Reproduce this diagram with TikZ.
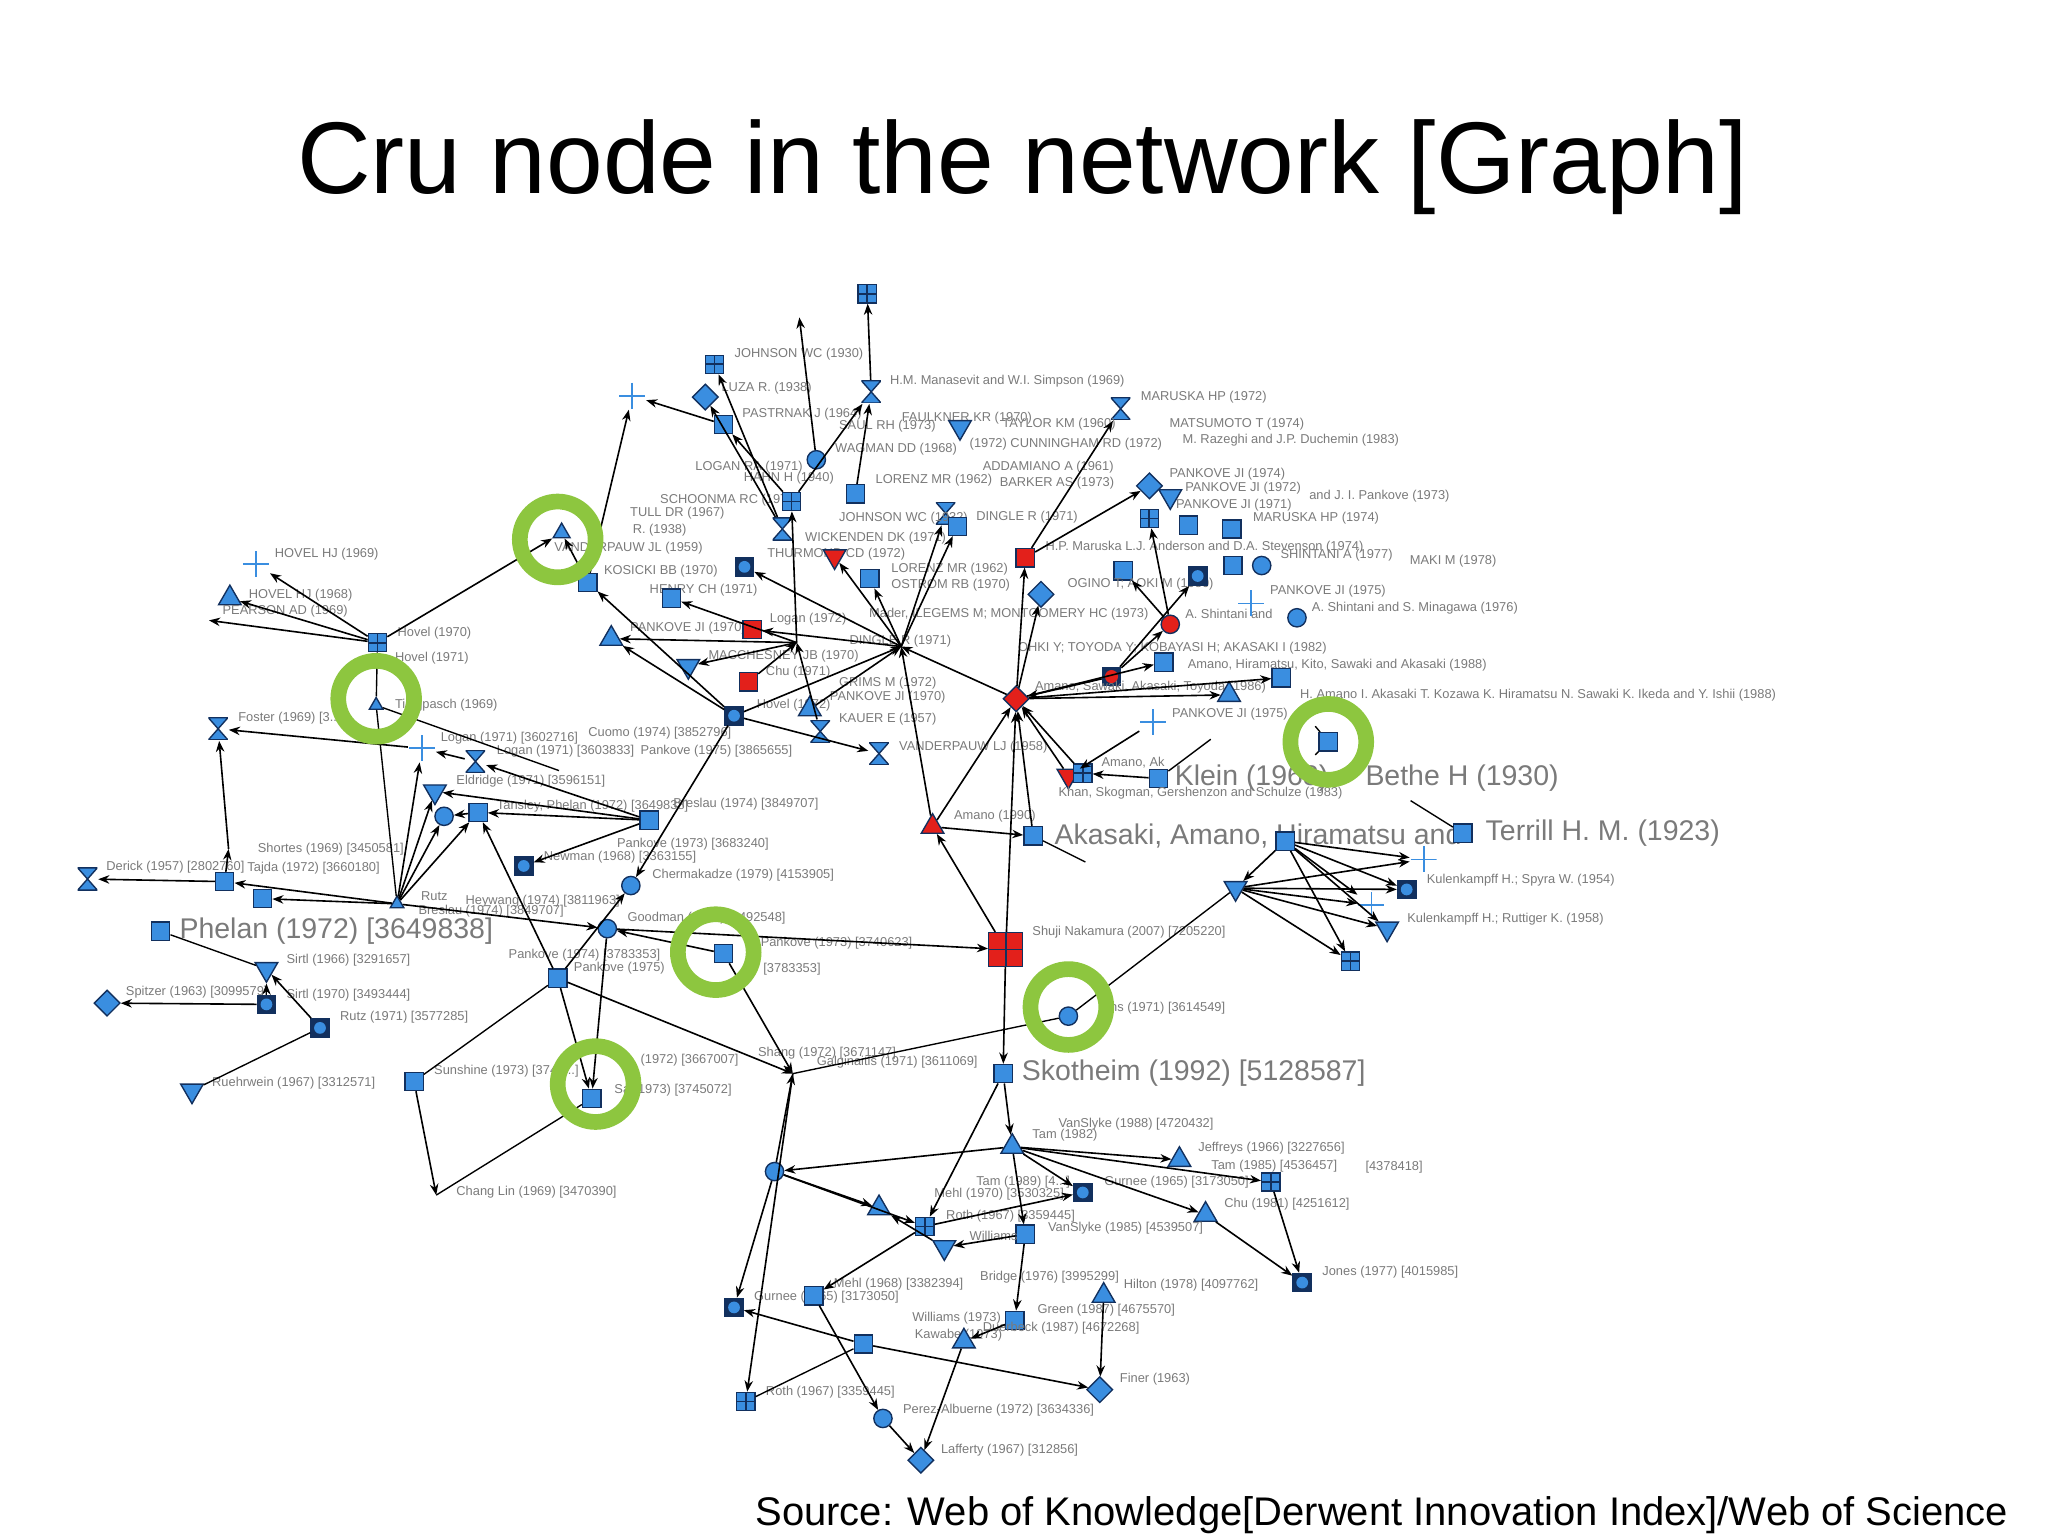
\documentclass[tikz,border=0pt]{standalone}
\usepackage{fontspec}
\setmainfont{Liberation Sans}
\usetikzlibrary{shapes.geometric,arrows.meta}
\definecolor{nb}{HTML}{3A8EE0}
\definecolor{nd}{HTML}{12305E}
\definecolor{nr}{HTML}{E3201B}
\definecolor{lg}{HTML}{7A7A7A}
\definecolor{rg}{HTML}{8DC63F}
\newcommand\tx[4]{\node[lb] (#1) at (#2,#3) {#4};}
\newcommand\bx[4]{\node[bl] (#1) at (#2,#3) {#4};}
\begin{document}
\begin{tikzpicture}[x=0.01cm,y=-0.01cm,
  base/.style={inner sep=0pt,draw=nd,line width=0.3pt,fill=nb},
  sq/.style={base,rectangle,minimum size=0.14cm},
  rsq/.style={sq,fill=nr},
  grid/.style={sq,path picture={\draw[nd,line width=0.4pt] (path picture bounding box.north)--(path picture bounding box.south) (path picture bounding box.west)--(path picture bounding box.east);}},
  rgrid/.style={grid,fill=nr,minimum size=0.26cm},
  dsq/.style={sq,fill=nd,path picture={\fill[nb] (path picture bounding box.center) circle (0.045cm);}},
  rdsq/.style={dsq,path picture={\fill[nr] (path picture bounding box.center) circle (0.05cm);}},
  tri/.style={base,regular polygon,regular polygon sides=3,minimum size=0.2cm},
  rtri/.style={tri,fill=nr},
  itri/.style={tri,shape border rotate=180},
  ritri/.style={itri,fill=nr},
  dia/.style={base,diamond,minimum size=0.2cm},
  rdia/.style={dia,fill=nr},
  circ/.style={base,circle,minimum size=0.14cm},
  rcirc/.style={circ,fill=nr},
  hg/.style={rectangle,inner sep=0pt,minimum width=0.15cm,minimum height=0.17cm,path picture={\filldraw[fill=nb,draw=nd,line width=0.3pt] (path picture bounding box.north west)--(path picture bounding box.north east)--(path picture bounding box.south west)--(path picture bounding box.south east)--cycle;}},
  crs/.style={rectangle,inner sep=0pt,minimum size=0.2cm,path picture={\draw[nb,line width=0.4pt] (path picture bounding box.north)--(path picture bounding box.south) (path picture bounding box.west)--(path picture bounding box.east);}},
  lb/.style={anchor=west,inner sep=0.5pt,text=lg,font=\fontsize{2.8}{3}\selectfont},
  bl/.style={anchor=west,inner sep=0.5pt,text=lg,font=\fontsize{6.2}{7}\selectfont},
  ring/.style={draw=rg,line width=0.12cm,circle,minimum size=0.58cm,inner sep=0pt},
  e/.style={-{Stealth[length=0.85mm,width=0.65mm]},line width=0.35pt,black},
  l/.style={line width=0.3pt,black}]
\useasboundingbox (0,0) rectangle (1568,1176);
\node[font=\fontsize{22.2}{25}\selectfont] (title) at (783,128) {Cru node in the network [Graph]};
\node[anchor=east,font=\fontsize{8.7}{10}\selectfont] (src) at (1550,1160) {Source: Web of Knowledge[Derwent Innovation Index]/Web of Science};

% ---------- top cluster
\node[grid] (g1) at (664,225) {};
\coordinate (c1) at (612,243);
\node[grid] (jw) at (547,279) {}; \tx{tjw}{560}{271}{JOHNSON WC (1930)}
\node[dia] (lz) at (540,304) {}; \tx{tlz}{550}{297}{LUZA R. (1938)}
\node[sq] (pa) at (554,325) {}; \tx{tpa}{566}{317}{PASTRNAK J (1964)}
\node[hg] (hm) at (667,300) {}; \tx{thm}{679}{292}{H.M. Manasevit and W.I. Simpson (1969)}
\node[crs] (x1) at (484,303) {};
\node[hg] (mh) at (858,313) {}; \tx{tmh}{871}{304}{MARUSKA HP (1972)}
\tx{tmt}{893}{325}{MATSUMOTO T (1974)} \tx{trz}{903}{337}{M. Razeghi and J.P. Duchemin (1983)}
\tx{tsr}{640}{326}{SAUL RH (1973)} \tx{tfk}{688}{320}{FAULKNER KR (1970)} \tx{ttk}{765}{325}{TAYLOR KM (1960)}
\node[itri] (it1) at (735,327) {};
\node[circ] (wg) at (625,352) {}; \tx{twg}{637}{344}{WAGMAN DD (1968)} \tx{tcu}{740}{340}{(1972) CUNNINGHAM RD (1972)}
\tx{tlr}{530}{358}{LOGAN RA (1971)} \tx{thh}{567}{366}{HAHN H (1940)} \tx{tlm}{668}{368}{LORENZ MR (1962)}
\node[sq] (s1) at (655,378) {}; \tx{tad}{750}{358}{ADDAMIANO A (1961)} \tx{tba}{763}{370}{BARKER AS (1973)}
\tx{tsc}{503}{383}{SCHOONMA RC (1971)} \node[grid] (g2) at (606,384) {};
\node[hg] (h2) at (724,393) {}; \tx{tj2}{640}{397}{JOHNSON WC (1932)} \tx{tdr}{745}{396}{DINGLE R (1971)}
\node[sq] (s2) at (733,403) {};
\tx{ttu}{480}{393}{TULL DR (1967)} \tx{tr3}{482}{406}{R. (1938)}
\node[hg] (h3) at (599,405) {}; \tx{twk}{614}{412}{WICKENDEN DK (1971)}
\tx{tva}{422}{420}{VANDERPAUW JL (1959)}
\node[dsq] (d1) at (570,434) {}; \tx{tth}{585}{424}{THURMOND CD (1972)}
\node[ritri] (rt1) at (639,426) {};
\tx{tko}{460}{437}{KOSICKI BB (1970)} \node[sq] (s3) at (450,446) {};
\tx{thc}{495}{452}{HENRY CH (1971)} \node[sq] (s4) at (514,458) {};
\node[sq] (s5) at (666,443) {}; \tx{tl2}{680}{436}{LORENZ MR (1962)} \tx{tos}{680}{448}{OSTROM RB (1970)}
\node[rsq] (r1) at (785,427) {}; \tx{thp}{798}{419}{H.P. Maruska L.J. Anderson and D.A. Stevenson (1974)}
\node[sq] (s6) at (860,437) {}; \tx{tog}{815}{447}{OGINO T; AOKI M (1980)}
\node[dia] (dm1) at (797,455) {};
\node[dsq] (d2) at (917,441) {};
\node[sq] (s7) at (944,433) {}; \node[circ] (c7) at (966,433) {};
\tx{tsh}{978}{425}{SHINTANI A (1977)} \tx{tmk}{1077}{430}{MAKI M (1978)}
\node[grid] (g3) at (880,397) {}; \node[sq] (s8) at (910,402) {}; \node[sq] (s9) at (943,405) {};
\node[dia] (dm2) at (880,372) {}; \node[itri] (it2) at (896,380) {};
\tx{tp1}{893}{363}{PANKOVE JI (1974)} \tx{tp2}{905}{374}{PANKOVE JI (1972)} \tx{tp3}{898}{387}{PANKOVE JI (1971)}
\tx{tpk}{1000}{380}{and J. I. Pankove (1973)} \tx{tm4}{957}{397}{MARUSKA HP (1974)}
\tx{tp5}{970}{453}{PANKOVE JI (1975)}
\node[circ] (c8) at (993,473) {}; \tx{tas}{1002}{466}{A. Shintani and S. Minagawa (1976)}
\node[rcirc] (rc1) at (896,478) {}; \tx{tas2}{905}{470}{A. Shintani and}
\node[crs] (x2) at (958,462) {};
\tx{tmd}{663}{470}{Mader, ILEGEMS M; MONTGOMERY HC (1973)}
\node[tri] (t1) at (468,489) {}; \tx{tpj}{480}{481}{PANKOVE JI (1970)}
\node[rsq] (r2) at (576,482) {}; \tx{tlo}{587}{474}{Logan (1972)}
\tx{tdg}{648}{491}{DINGLE R (1971)}
\coordinate (hub) at (690,495);
\coordinate (hub2) at (610,492);
\tx{toh}{777}{496}{OHKI Y; TOYODA Y; KOBAYASI H; AKASAKI I (1982)}
\node[sq] (s10) at (891,507) {}; \tx{tam}{907}{509}{Amano, Hiramatsu, Kito, Sawaki and Akasaki (1988)}
\node[sq] (s11) at (981,519) {}; \tx{tha}{993}{532}{H. Amano I. Akasaki T. Kozawa K. Hiramatsu N. Sawaki K. Ikeda and Y. Ishii (1988)}
\node[itri] (it3) at (527,510) {}; \tx{tmc}{540}{502}{MACCHESNEY JB (1970)}
\node[rsq] (r3) at (573,522) {}; \tx{tch}{584}{515}{Chu (1971)}
\node[rdsq] (r4) at (851,518) {};
\node[rdia] (rd) at (778,535) {}; \tx{tas3}{790}{526}{Amano, Sawaki, Akasaki, Toyoda (1986)}
\node[tri] (t2) at (941,532) {}; \tx{tp6}{895}{547}{PANKOVE JI (1975)}
\node[dsq] (d3) at (562,548) {}; \tx{thv}{577}{540}{Hovel (1972)}
\node[tri] (t3) at (620,543) {}; \tx{tp7}{633}{534}{PANKOVE JI (1970)}
\tx{tgr}{640}{523}{GRIMS M (1972)}
\node[hg] (h4) at (628,560) {}; \tx{tka}{640}{551}{KAUER E (1957)}
\node[hg] (h5) at (673,577) {}; \tx{tvl}{686}{572}{VANDERPAUW LJ (1958)}
\node[crs] (x3) at (883,553) {};
\node[sq] (s12) at (1017,568) {};
\node[ritri] (rt2) at (818,594) {}; \node[grid] (g4) at (829,592) {}; \tx{taa}{841}{584}{Amano, Ak}
\node[sq] (s13) at (887,596) {}; \bx{tkl}{897}{596}{Klein (1968)} \bx{tbe}{1043}{596}{Bethe H (1930)}
\tx{tks}{808}{607}{Khan, Skogman, Gershenzon and Schulze (1983)}
\node[rtri] (rt3) at (714,633) {}; \tx{ta9}{728}{625}{Amano (1990)}
\node[sq] (s14) at (791,640) {}; \bx{tak}{805}{640}{Akasaki, Amano, Hiramatsu and}
\node[sq] (s15) at (984,644) {};
\node[sq] (s16) at (1120,638) {}; \bx{tte}{1135}{638}{Terrill H. M. (1923)}
\node[crs] (x4) at (1090,658) {};
\node[itri] (it4) at (946,680) {};
\node[dsq] (d4) at (1077,681) {}; \tx{tku}{1090}{674}{Kulenkampff H.; Spyra W. (1954)}
\node[crs] (x5) at (1050,693) {};
\node[itri] (it5) at (1062,711) {}; \tx{tku2}{1075}{704}{Kulenkampff H.; Ruttiger K. (1958)}
\node[grid] (g5) at (1034,736) {};
\node[rgrid] (nak) at (770,727) {}; \tx{tna}{788}{714}{Shuji Nakamura (2007) [7205220]}
\node[circ] (c9) at (818,778) {}; \tx{tc9}{842}{772}{ens (1971) [3614549]}
\node[sq] (sko) at (768,822) {}; \bx{tsk}{780}{822}{Skotheim (1992) [5128587]}

% ---------- left cluster
\node[crs] (x6) at (196,432) {}; \tx{th1}{208}{424}{HOVEL HJ (1969)}
\node[tri] (t4) at (176,458) {}; \tx{th2}{188}{456}{HOVEL HJ (1968)} \tx{tpe}{168}{468}{PEARSON AD (1969)}
\coordinate (c2) at (160,475);
\node[grid] (hv) at (289,492) {}; \tx{thv1}{302}{485}{Hovel (1970)} \tx{thv2}{300}{504}{Hovel (1971)}
\node[tri,minimum size=0.12cm] (t5) at (288,540) {}; \tx{ttp}{300}{540}{Tiedjpasch (1969)}
\node[tri,minimum size=0.15cm] (t6) at (430,408) {};
\node[hg] (fo) at (167,558) {}; \tx{tfo}{180}{550}{Foster (1969) [3...]}
\tx{tlg}{335}{565}{Logan (1971) [3602716]} \tx{tcu2}{448}{561}{Cuomo (1974) [3852796]}
\node[crs] (x7) at (323,573) {};
\node[hg] (h6) at (364,583) {}; \tx{tlg2}{378}{575}{Logan (1971) [3603833]} \tx{tpk2}{488}{575}{Pankove (1975) [3865655]}
\node[itri] (it6) at (333,606) {}; \tx{tel}{347}{598}{Eldridge (1971) [3596151]}
\node[circ] (c10) at (340,625) {}; \node[sq] (s17) at (366,622) {};
\tx{tta}{378}{617}{Tansley, Phelan (1972) [3649838]} \tx{tbr}{513}{616}{Breslau (1974) [3849707]}
\node[sq] (s18) at (497,628) {};
\tx{tso}{195}{650}{Shortes (1969) [3450581]}
\coordinate (c3) at (175,650);
\node[hg] (h7) at (67,673) {}; \tx{tde}{79}{664}{Derick (1957) [2802760]}
\node[sq] (s19) at (172,675) {}; \tx{tta2}{187}{665}{Tajda (1972) [3660180]}
\node[dsq] (d5) at (401,663) {}; \tx{tne}{414}{656}{Newman (1968) [3363155]} \tx{tpk3}{470}{646}{Pankove (1973) [3683240]}
\node[circ] (c11) at (483,678) {}; \tx{tcm}{497}{670}{Chermakadze (1979) [4153905]}
\node[sq] (s20) at (201,688) {};
\node[tri,minimum size=0.12cm] (ph) at (304,692) {}; \tx{tru}{320}{686}{Rutz} \tx{the}{354}{690}{Heywang (1974) [3811963]} \tx{tbr2}{318}{698}{Breslau (1974) [3849707]}
\node[sq] (s21) at (123,713) {}; \bx{tph}{135}{713}{Phelan (1972) [3649838]}
\node[circ] (c12) at (465,711) {}; \tx{tgo}{478}{703}{Goodman (1974) [3492548]}
\node[sq] (s22) at (554,730) {}; \tx{tpk4}{580}{722}{Pankove (1973) [3740623]} \tx{tpk5}{582}{742}{[3783353]}
\tx{tpk6}{387}{731}{Pankove (1974) [3783353]} \tx{tpk7}{437}{741}{Pankove (1975)}
\node[itri] (it7) at (204,742) {}; \tx{tsi}{217}{735}{Sirtl (1966) [3291657]}
\node[sq] (s23) at (427,749) {};
\node[dia] (dm3) at (82,768) {}; \tx{tsp}{94}{760}{Spitzer (1963) [3099579]}
\node[dsq] (d6) at (204,769) {}; \tx{tsi2}{217}{762}{Sirtl (1970) [3493444]}
\node[dsq] (d7) at (245,787) {}; \tx{tru2}{258}{779}{Rutz (1971) [3577285]}
\node[itri] (it8) at (147,835) {}; \tx{tre}{160}{829}{Ruehrwein (1967) [3312571]}
\node[sq] (s24) at (317,828) {}; \tx{tsu}{330}{820}{Sunshine (1973) [3741...]}
\node[sq] (s25) at (453,841) {}; \tx{tsa}{468}{835}{Sa (1973) [3745072]} \tx{t72}{488}{812}{(1972) [3667007]}
\coordinate (shg) at (607,822); \tx{tsg}{578}{806}{Shang (1972) [3671147]} \tx{tga}{623}{813}{Galginaitis (1971) [3611069]}
\coordinate (cl) at (334,915); \tx{tcl}{347}{913}{Chang Lin (1969) [3470390]}

% ---------- bottom cluster
\node[circ] (c13) at (593,897) {};
\node[tri] (t7) at (775,878) {}; \tx{tvs}{808}{861}{VanSlyke (1988) [4720432]} \tx{tta3}{788}{869}{Tam (1982)}
\node[tri] (t8) at (903,888) {}; \tx{tje}{915}{879}{Jeffreys (1966) [3227656]}
\tx{tta4}{925}{893}{Tam (1985) [4536457]} \tx{t43}{1043}{894}{[4378418]}
\node[grid] (g6) at (973,905) {};
\node[dsq] (d8) at (829,913) {}; \tx{tgu}{843}{905}{Gurnee (1965) [3173050]} \tx{tta5}{745}{905}{Tam (1989) [4...]}
\tx{tme}{713}{914}{Mehl (1970) [3530325]}
\node[tri] (t9) at (673,925) {};
\node[tri] (t10) at (923,930) {}; \tx{tch2}{935}{922}{Chu (1981) [4251612]}
\node[grid] (g7) at (708,939) {}; \tx{tro}{722}{931}{Roth (1967) [3359445]}
\node[sq] (s26) at (785,945) {}; \tx{tvs2}{800}{940}{VanSlyke (1985) [4539507]}
\node[itri] (it9) at (723,955) {}; \tx{twi}{740}{946}{Williams}
\node[dsq] (d9) at (997,982) {}; \tx{tjo}{1010}{974}{Jones (1977) [4015985]}
\tx{tme2}{636}{983}{Mehl (1968) [3382394]} \tx{tbr3}{748}{978}{Bridge (1976) [3995299]}
\tx{thi}{858}{984}{Hilton (1978) [4097762]}
\node[dsq] (d10) at (562,1001) {}; \tx{tgu2}{575}{993}{Gurnee (1965) [3173050]}
\node[sq] (s27) at (623,992) {};
\node[tri] (t11) at (845,992) {};
\node[sq] (s28) at (777,1011) {}; \tx{tgr2}{792}{1003}{Green (1987) [4675570]}
\tx{twi2}{696}{1009}{Williams (1973)}
\tx{tkw}{698}{1022}{Kawabe (1973)} \tx{tdu}{750}{1017}{Duerbeck (1987) [4672268]}
\node[sq] (s29) at (661,1029) {}; \node[tri] (t12) at (738,1027) {};
\node[dia] (dm4) at (842,1064) {}; \tx{tfi}{855}{1056}{Finer (1963)}
\node[grid] (g8) at (571,1073) {}; \tx{tro2}{584}{1066}{Roth (1967) [3359445]}
\node[circ] (c14) at (676,1086) {}; \tx{tpa2}{689}{1080}{Perez-Albuerne (1972) [3634336]}
\node[dia] (dm5) at (705,1118) {}; \tx{tla}{718}{1110}{Lafferty (1967) [312856]}

% ---------- edges
\draw[e] (wg) -- (c1); \draw[e] (hm) -- (g1); \draw[e] (g2) -- (hm); \draw[e] (pa) -- (x1);
\draw[e] (s3) -- (x1); \draw[e] (h3) -- (jw); \draw[e] (h3) -- (lz); \draw[e] (g2) -- (pa);
\draw[e] (s1) -- (hm); \draw[e] (r1) -- (mh); \draw[e] (hub) -- (r2); \draw[e] (hub) -- (rt1);
\draw[e] (hub) -- (d1); \draw[e] (hub) -- (s5); \draw[e] (hub) -- (h2); \draw[e] (hub) -- (s2);
\draw[e] (hub2) -- (t1); \draw[e] (hub2) -- (s4); \draw[e] (hub2) -- (it3); \draw[e] (hub2) -- (g2);
\draw[e] (rd) -- (hub); \draw[e] (rd) -- (r1); \draw[e] (rd) -- (dm1); \draw[e] (r4) -- (rd);
\draw[e] (rd) -- (s11); \draw[e] (rd) -- (t2); \draw[e] (r4) -- (rc1); \draw[e] (rc1) -- (s6);
\draw[e] (rd) -- (s10); \draw[e] (r4) -- (d2); \draw[e] (rc1) -- (g3); \draw[e] (r1) -- (dm2);
\draw[e] (rt3) -- (rd); \draw[e] (s14) -- (rd); \draw[e] (g4) -- (rd); \draw[e] (rt2) -- (rd);
\draw[e] (rt3) -- (hub); \draw[e] (nak) -- (rt3); \draw[e] (nak) -- (rd); \draw[e] (rt3) -- (s14);
\draw[e] (nak) -- (sko); \draw[e] (c12) -- (nak); \draw[e] (x3) -- (rt2); \draw[e] (s13) -- (g4);
\draw[e] (r3) -- (hub2); \draw[e] (d3) -- (hub); \draw[e] (d3) -- (h5); \draw[e] (t3) -- (hub);
\draw[e] (h4) -- (hub2); \draw[l] (c9) -- (shg); \draw[l] (c9) -- (it4);
\draw[l] (s12) -- ++(-10,-12); \draw[l] (s12) -- ++(-10,10);
\draw[l] (s13) -- ++(40,-30);
% right
\draw[e] (s15) -- (it4); \draw[e] (s15) -- (it5); \draw[e] (s15) -- (g5); \draw[e] (s15) -- (d4);
\draw[e] (s15) -- (x4); \draw[e] (it4) -- (x4); \draw[e] (it4) -- (d4); \draw[e] (it4) -- (it5);
\draw[e] (it4) -- (g5); \draw[e] (it4) -- (x5); \draw[e] (s15) -- (x5);
\draw[l] (s14) -- ++(40,20); \draw[l] (s16) -- ++(-40,-25);
% left
\draw[e] (hv) -- (t6); \draw[e] (hv) -- (c2); \draw[e] (hv) -- (x6); \draw[e] (hv) -- (t4);
\draw[e] (x7) -- (fo); \draw[e] (h6) -- (x7); \draw[e] (ph) -- (s19); \draw[e] (s19) -- (h7);
\draw[e] (ph) -- (s20); \draw[e] (ph) -- (it6); \draw[e] (ph) -- (c10); \draw[e] (ph) -- (s17);
\draw[e] (ph) -- (x7); \draw[e] (s19) -- (c3); \draw[e] (c3) -- (fo);
\draw[e] (s17) -- (c10); \draw[e] (s18) -- (s17); \draw[e] (s18) -- (h6); \draw[e] (s18) -- (it6);
\draw[e] (s18) -- (d5); \draw[e] (s22) -- (c12); \draw[e] (ph) -- (c12); \draw[e] (s23) -- (c11);
\draw[e] (s23) -- (s17); \draw[e] (s3) -- (t6); \draw[e] (d3) -- (s3); \draw[e] (d3) -- (t1);
\draw[e] (d3) -- (c11); \draw[l] (t5) -- (hv); \draw[l] (t5) -- (ph); \draw[l] (t5) -- ++(140,50);
\draw[e] (d6) -- (dm3); \draw[e] (d6) -- (it7); \draw[e] (d7) -- (it7); \draw[l] (d7) -- (it8);
\draw[l] (it7) -- (s21);
\draw[e] (s24) -- (cl); \draw[l] (s25) -- (cl); \draw[e] (s23) -- (s25); \draw[e] (s23) -- (shg);
\draw[l] (s24) -- (s23); \draw[e] (c12) -- (s25); \draw[e] (s22) -- (shg);
% bottom
\draw[e] (sko) -- (t7); \draw[e] (sko) -- (g7); \draw[e] (t7) -- (c13); \draw[e] (t7) -- (t8);
\draw[e] (t7) -- (d8); \draw[e] (t7) -- (t10); \draw[e] (t7) -- (g6); \draw[e] (t7) -- (s26);
\draw[e] (c13) -- (shg); \draw[e] (c13) -- (d10); \draw[e] (c13) -- (t9); \draw[e] (c13) -- (g7);
\draw[e] (shg) -- (g8); \draw[e] (g7) -- (d8); \draw[e] (it9) -- (t9); \draw[e] (s26) -- (it9);
\draw[e] (t10) -- (d9); \draw[e] (g6) -- (d9); \draw[e] (s29) -- (d10); \draw[e] (t12) -- (dm5);
\draw[e] (s29) -- (dm4); \draw[e] (s27) -- (c14); \draw[e] (c14) -- (dm5); \draw[e] (t11) -- (dm4);
\draw[e] (s28) -- (t12); \draw[l] (s29) -- (g8); \draw[e] (s26) -- (s28); \draw[e] (g7) -- (s27);

% rings
\foreach \n/\x/\y in {ra/427/413,rb/288/535,rc/1017/568,rd2/548/729,re/818/771,rf/456/830}
  \node[ring] (\n) at (\x,\y) {};
\end{tikzpicture}
\end{document}
